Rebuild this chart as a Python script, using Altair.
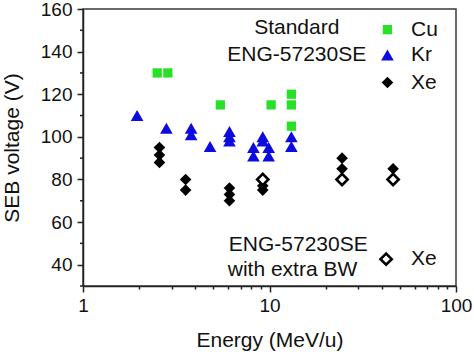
import altair as alt
import pandas as pd

# ---- data ----
cu_energy = [2.5, 2.85, 5.45, 10.2, 13.1, 13.1, 13.1]
cu_voltage = [130, 130, 115, 115, 120, 115, 105]

kr_energy = [1.95, 2.8, 3.8, 3.8, 4.8, 6.1, 6.1, 6.1, 8.2, 8.2, 9.2, 9.2, 9.9, 9.9, 13.1, 13.1]
kr_voltage = [110, 104, 104, 101, 95.5, 102.5, 100, 98, 95, 91, 100, 98, 95, 91, 100, 95.5]

xe_energy = [2.57, 2.57, 2.57, 3.55, 3.55, 6.1, 6.1, 6.1, 9.2, 9.2, 24.5, 24.5, 46]
xe_voltage = [95, 91.5, 88, 80, 75, 76, 73, 70, 77, 75, 90, 85, 85]

xe_bw_energy = [9.2, 24.5, 46]
xe_bw_voltage = [80, 80, 80]

x_ticks = [1, 2, 3, 4, 5, 6, 7, 8, 9, 10, 20, 30, 40, 50, 60, 70, 80, 90, 100]
y_major_ticks = [40, 60, 80, 100, 120, 140, 160]
y_minor_ticks = [30, 50, 70, 90, 110, 130, 150]

# legend / annotation anchors (data units)
leg_sym_energy = [42.9, 42.9, 42.9, 42.2]
leg_sym_voltage = [150.3, 138.4, 125.5, 42.6]
leg_lab_energy = [57.4, 57.4, 57.4, 57.4]
leg_lab_voltage = [150.3, 138.4, 125.3, 42.6]
leg_labels = ["Cu", "Kr", "Xe", "Xe"]

title_text = ["Standard", "ENG-57230SE"]
title_energy = [14.0, 14.0]
title_voltage = [151.2, 138.4]

bw_text = ["ENG-57230SE", "with extra BW"]
bw_energy = [6.05, 5.97]
bw_voltage = [49.3, 37.6]

GREEN = "#27e027"
BLUE = "#0c0ce0"
BLACK = "#000000"
AXC = "#222222"
FONT = "Liberation Sans"

xscale = alt.Scale(type="log", domain=[1, 100], nice=False)
yscale = alt.Scale(domain=[30, 160], nice=False, zero=False)

xaxis = alt.Axis(
    values=x_ticks,
    labelExpr="(datum.value == 1 || datum.value == 10 || datum.value == 100) ? datum.label : ''",
    tickSize={"condition": {"test": "datum.value == 1 || datum.value == 10 || datum.value == 100", "value": 6}, "value": 3},
    title="Energy (MeV/u)",
    grid=False,
    labelFlush=False,
    labelOverlap=False,
    labelPadding=4,
    titlePadding=14,
)
yaxis = alt.Axis(
    values=y_major_ticks,
    tickSize=6,
    title="SEB voltage (V)",
    grid=False,
    labelOverlap=False,
    labelFlush=False,
    labelPadding=5,
    titlePadding=18,
)


def df(e, v):
    return pd.DataFrame({"energy": e, "voltage": v})


X = alt.X("energy:Q", scale=xscale, axis=xaxis)
Y = alt.Y("voltage:Q", scale=yscale, axis=yaxis)
Xn = alt.X("energy:Q", scale=xscale)
Yn = alt.Y("voltage:Q", scale=yscale)

cu = alt.Chart(df(cu_energy, cu_voltage)).mark_point(
    shape="square", filled=True, size=86, color=GREEN, opacity=1
).encode(x=X, y=Y)

kr = alt.Chart(df(kr_energy, kr_voltage)).mark_point(
    shape="triangle-up", filled=True, size=160, color=BLUE, opacity=1
).encode(x=Xn, y=Yn)

xe = alt.Chart(df(xe_energy, xe_voltage)).mark_point(
    shape="diamond", filled=True, size=135, color=BLACK, opacity=1
).encode(x=Xn, y=Yn)

xe_bw = alt.Chart(df(xe_bw_energy, xe_bw_voltage)).mark_point(
    shape="diamond", filled=True, size=125, color="white", opacity=1,
    stroke=BLACK, strokeWidth=2.6
).encode(x=Xn, y=Yn)

# minor y ticks (outside the left edge)
y_minor = alt.Chart(pd.DataFrame({"voltage": y_minor_ticks})).mark_rule(
    color=AXC, strokeWidth=1.5
).encode(y=Yn, x=alt.value(-3), x2=alt.value(0))

# legend symbols
leg_cu = alt.Chart(df(leg_sym_energy[0:1], leg_sym_voltage[0:1])).mark_point(
    shape="square", filled=True, size=86, color=GREEN, opacity=1
).encode(x=Xn, y=Yn)
leg_kr = alt.Chart(df(leg_sym_energy[1:2], leg_sym_voltage[1:2])).mark_point(
    shape="triangle-up", filled=True, size=160, color=BLUE, opacity=1
).encode(x=Xn, y=Yn)
leg_xe = alt.Chart(df(leg_sym_energy[2:3], leg_sym_voltage[2:3])).mark_point(
    shape="diamond", filled=True, size=135, color=BLACK, opacity=1
).encode(x=Xn, y=Yn)
leg_bw = alt.Chart(df(leg_sym_energy[3:4], leg_sym_voltage[3:4])).mark_point(
    shape="diamond", filled=True, size=125, color="white", opacity=1,
    stroke=BLACK, strokeWidth=2.6
).encode(x=Xn, y=Yn)

leg_text = alt.Chart(pd.DataFrame({
    "energy": leg_lab_energy, "voltage": leg_lab_voltage, "t": leg_labels
})).mark_text(
    align="left", baseline="middle", font=FONT, fontSize=21, color="#111"
).encode(x=Xn, y=Yn, text="t:N")

std_text = alt.Chart(pd.DataFrame({
    "energy": title_energy, "voltage": title_voltage, "t": title_text
})).mark_text(
    align="center", baseline="middle", font=FONT, fontSize=21, color="#111"
).encode(x=Xn, y=Yn, text="t:N")

bw_txt = alt.Chart(pd.DataFrame({
    "energy": bw_energy, "voltage": bw_voltage, "t": bw_text
})).mark_text(
    align="left", baseline="middle", font=FONT, fontSize=21, color="#111"
).encode(x=Xn, y=Yn, text="t:N")

chart = alt.layer(
    cu, kr, xe, xe_bw, y_minor, leg_cu, leg_kr, leg_xe, leg_bw, leg_text, std_text, bw_txt
).properties(
    width=373,
    height=277,
    autosize=alt.AutoSizeParams(type="none"),
    padding={"left": 83, "top": 9, "right": 18, "bottom": 66},
    background="white",
).configure_view(
    stroke="#3a3a3a", strokeWidth=1.5
).configure_axis(
    labelFont=FONT, titleFont=FONT,
    labelFontSize=19, titleFontSize=21,
    labelColor="#111", titleColor="#111",
    titleFontWeight="normal",
    domainColor=AXC, domainWidth=1.5,
    tickColor=AXC, tickWidth=1.5,
)

chart.save("out.html", embed_options={"renderer": "svg", "actions": False})
